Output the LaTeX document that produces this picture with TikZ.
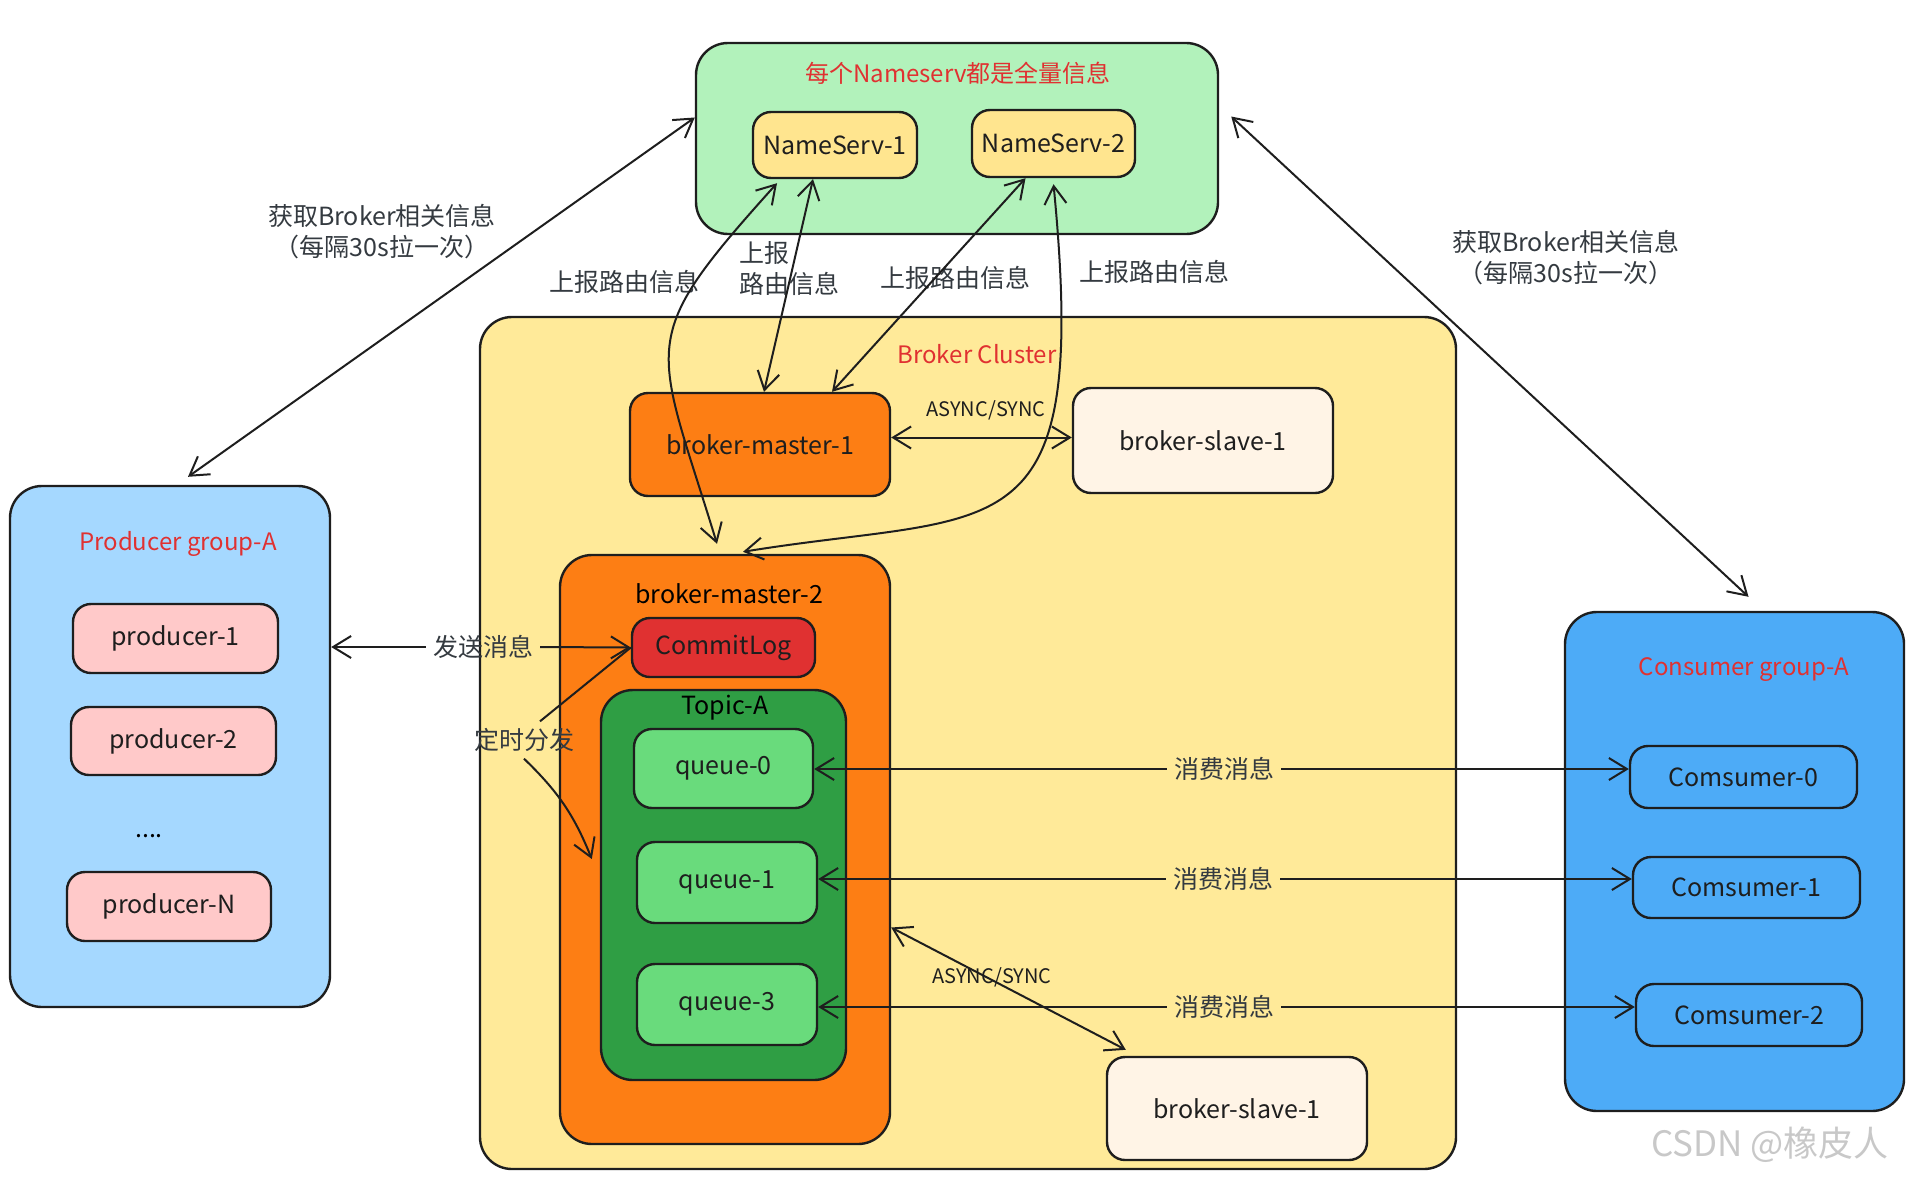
\documentclass[tikz,border=0pt]{standalone}
\usepackage{fontspec}
\setmainfont{Noto Sans CJK SC}
\usepackage{xcolor}
\usepackage{tikz}
\usetikzlibrary{arrows.meta, positioning, calc}

\definecolor{ink}{HTML}{1E1E1E}
\definecolor{notetxt}{HTML}{343A40}
\definecolor{redtxt}{HTML}{E03131}
\definecolor{nsgreen}{HTML}{B2F2BB}
\definecolor{nsyellow}{HTML}{FFE58F}
\definecolor{clusteryellow}{HTML}{FFEA99}
\definecolor{brokerorange}{HTML}{FD7E14}
\definecolor{slavecream}{HTML}{FFF4E6}
\definecolor{commitred}{HTML}{E03131}
\definecolor{topicgreen}{HTML}{2F9E44}
\definecolor{queuegreen}{HTML}{69DB7C}
\definecolor{prodblue}{HTML}{A5D8FF}
\definecolor{prodpink}{HTML}{FFC9C9}
\definecolor{consblue}{HTML}{4DABF7}
\definecolor{wmgray}{HTML}{C8C8C8}

\begin{document}
\begin{tikzpicture}[
  x=0.5pt, y=-0.5pt,
  font=\fontsize{12.5}{15.5}\selectfont,
  >={Straight Barb[length=9pt,width=11pt]},
  group/.style={draw=ink, line width=1.2pt, rounded corners=16pt},
  box/.style={draw=ink, line width=1.2pt, rounded corners=9pt, text=ink},
  title/.style={text=redtxt, font=\fontsize{12}{14}\selectfont},
  note/.style={text=notetxt},
  small/.style={text=ink, font=\fontsize{10}{12}\selectfont},
  link/.style={draw=ink, line width=1pt},
]
\useasboundingbox (0,0) rectangle (1914,1177);

% name servers
\node[group, fill=nsgreen, minimum width=261pt, minimum height=95.5pt] (nsgroup) at (957,138.5) {};
\node[title] (nstitle) at (958,73) {每个Nameserv都是全量信息};
\node[box, fill=nsyellow, minimum width=82pt, minimum height=33pt] (ns1) at (835,145) {NameServ-1};
\node[box, fill=nsyellow, minimum width=81.5pt, minimum height=33.5pt] (ns2) at (1053.5,143.5) {NameServ-2};

% broker cluster
\node[group, fill=clusteryellow, minimum width=488pt, minimum height=426pt] (cluster) at (968,743) {};
\node[title] (clustertitle) at (977,354) {Broker Cluster};
\node[box, fill=brokerorange, minimum width=130pt, minimum height=51.5pt] (bm1) at (760,444.5) {broker-master-1};
\node[box, fill=slavecream, minimum width=130pt, minimum height=52.5pt] (bs1) at (1203,440.5) {broker-slave-1};
\node[group, fill=brokerorange, minimum width=165pt, minimum height=294.5pt] (bm2) at (725,849.5) {};
\node (bm2title) at (729,594) {broker-master-2};
\node[box, fill=commitred, minimum width=91.5pt, minimum height=29.5pt] (commit) at (723.5,647.5) {CommitLog};
\node[group, fill=topicgreen, minimum width=122.5pt, minimum height=195pt] (topic) at (723.5,885) {};
\node (topictitle) at (725,708) {Topic-A};
\node[box, fill=queuegreen, minimum width=89.5pt, minimum height=39.5pt] (q0) at (723.5,768.5) {queue-0};
\node[box, fill=queuegreen, minimum width=90pt, minimum height=40.5pt] (q1) at (727,882.5) {queue-1};
\node[box, fill=queuegreen, minimum width=90pt, minimum height=40.5pt] (q3) at (727,1004.5) {queue-3};
\node[box, fill=slavecream, minimum width=130pt, minimum height=51.5pt] (bs2) at (1237,1108.5) {broker-slave-1};

% producers
\node[group, fill=prodblue, minimum width=160pt, minimum height=260.5pt] (prodgroup) at (170,746.5) {};
\node[title] (prodtitle) at (178,544) {Producer group-A};
\node[box, fill=prodpink, minimum width=102.5pt, minimum height=34.5pt] (p1) at (175.5,638.5) {producer-1};
\node[box, fill=prodpink, minimum width=102.5pt, minimum height=34pt] (p2) at (173.5,741) {producer-2};
\node (dots) at (149,836) {....};
\node[box, fill=prodpink, minimum width=102pt, minimum height=34.5pt] (pN) at (169,906.5) {producer-N};

% consumers
\node[group, fill=consblue, minimum width=169.5pt, minimum height=249.5pt] (consgroup) at (1734.5,861.5) {};
\node[title] (constitle) at (1744,670) {Consumer group-A};
\node[box, fill=consblue, minimum width=113.5pt, minimum height=31pt] (c0) at (1743.5,777) {Comsumer-0};
\node[box, fill=consblue, minimum width=113.5pt, minimum height=30.5pt] (c1) at (1746.5,887.5) {Comsumer-1};
\node[box, fill=consblue, minimum width=113pt, minimum height=31pt] (c2) at (1749,1015) {Comsumer-2};

% labels
\node[note, align=center] (fetchL) at (382,232) {获取Broker相关信息\\（每隔30s拉一次）};
\node[note, align=center] (fetchR) at (1566,258) {获取Broker相关信息\\（每隔30s拉一次）};
\node[note] (rpt1) at (624,282) {上报路由信息};
\node[note, align=left] (rpt2) at (789,269) {上报\\路由信息};
\node[note] (rpt3) at (955,278) {上报路由信息};
\node[note] (rpt4) at (1154,272) {上报路由信息};
\node[note] (send) at (483,647) {发送消息};
\node[note] (timer) at (524,740) {定时分发};
\node[note] (use0) at (1224,769) {消费消息};
\node[note] (use1) at (1223,879) {消费消息};
\node[note] (use2) at (1224,1007) {消费消息};
\node[small] (sync1) at (986,410) {ASYNC/SYNC};
\node[text=wmgray, font=\fontsize{17.5}{20}\selectfont] (mark) at (1770,1145) {CSDN @橡皮人};

% name server lookups
\draw[link, <->] ([xshift=9pt,yshift=4pt]prodgroup.north) -- ([yshift=10.5pt]nsgroup.west);
\draw[link, <->] ([xshift=6pt,yshift=11pt]nsgroup.east) -- ([xshift=7pt,yshift=7pt]consgroup.north);

% route reports
\draw[link, <->] ([xshift=-29pt,yshift=-2pt]ns1.south) to[out=228,in=107,looseness=1.5] ([xshift=-4pt,yshift=5pt]bm2.north);
\draw[link, <->] ([xshift=-11pt]ns1.south) -- ([xshift=2pt]bm1.north);
\draw[link, <->] ([xshift=-14pt]ns2.south) -- ([xshift=36pt]bm1.north);
\draw[link, <->] ([yshift=-3pt]ns2.south) .. controls (1090,560) and (1000,510) .. ([xshift=9pt,yshift=1pt]bm2.north);

% replication
\draw[link, <->] ([yshift=3.5pt]bm1.east) -- ([yshift=3.5pt]bm1.east -| bs1.west);
\draw[link, <->] ([yshift=-39pt]bm2.east) -- ([xshift=10pt,yshift=3pt]bs2.north west);
\node[small] (sync2) at (992,977) {ASYNC/SYNC};

% sending and dispatch
\draw[link, ->] (send.west) -- (send.west -| prodgroup.east);
\draw[link, ->] (send.east) -- (commit.west);
\draw[link] (commit.west) -- ([xshift=8pt]timer.north);
\draw[link, ->] (timer.south) to[bend left=12] ([xshift=-4pt,yshift=13pt]topic.west);

% consuming
\foreach \q/\u/\c in {q0/use0/c0, q1/use1/c1, q3/use2/c2} {
  \draw[link, ->] (\u.west) -- (\u.west -| \q.east);
  \draw[link, ->] (\u.east) -- (\u.east -| \c.west);
}
\end{tikzpicture}
\end{document}
